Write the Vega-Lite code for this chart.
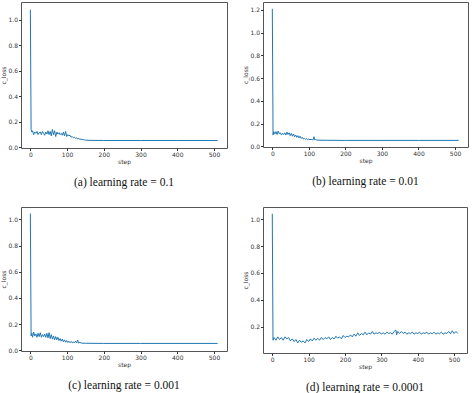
{
 "$schema": "https://vega.github.io/schema/vega-lite/v6.json",
 "padding": {"left": 0, "top": 1, "right": 3, "bottom": 0},
 "background": "white",
 "datasets": {
  "a": [
   {"s":0,"v":1.08},{"s":2,"v":0.14},{"s":4,"v":0.12},{"s":6,"v":0.13},{"s":9,"v":0.10},{"s":12,"v":0.12},{"s":15,"v":0.11},{"s":18,"v":0.125},{"s":21,"v":0.10},{"s":24,"v":0.115},{"s":27,"v":0.12},{"s":30,"v":0.10},{"s":33,"v":0.125},{"s":36,"v":0.11},{"s":39,"v":0.095},{"s":42,"v":0.12},{"s":45,"v":0.105},{"s":48,"v":0.13},{"s":51,"v":0.10},{"s":54,"v":0.125},{"s":57,"v":0.09},{"s":60,"v":0.14},{"s":63,"v":0.10},{"s":66,"v":0.13},{"s":69,"v":0.085},{"s":72,"v":0.12},{"s":75,"v":0.105},{"s":78,"v":0.115},{"s":81,"v":0.10},{"s":84,"v":0.11},{"s":87,"v":0.095},{"s":90,"v":0.12},{"s":93,"v":0.09},{"s":96,"v":0.125},{"s":99,"v":0.085},{"s":102,"v":0.10},{"s":105,"v":0.09},{"s":108,"v":0.095},{"s":111,"v":0.08},{"s":114,"v":0.085},{"s":117,"v":0.075},{"s":120,"v":0.08},{"s":123,"v":0.07},{"s":126,"v":0.075},{"s":129,"v":0.065},{"s":132,"v":0.07},{"s":135,"v":0.062},{"s":138,"v":0.066},{"s":141,"v":0.06},{"s":144,"v":0.062},{"s":147,"v":0.058},{"s":150,"v":0.057},{"s":160,"v":0.055},{"s":200,"v":0.054},{"s":300,"v":0.054},{"s":400,"v":0.054},{"s":510,"v":0.054}
  ],
  "b": [
   {"s":0,"v":1.21},{"s":2,"v":0.10},{"s":4,"v":0.13},{"s":7,"v":0.11},{"s":10,"v":0.13},{"s":13,"v":0.105},{"s":16,"v":0.135},{"s":19,"v":0.11},{"s":22,"v":0.12},{"s":25,"v":0.10},{"s":28,"v":0.115},{"s":31,"v":0.105},{"s":34,"v":0.12},{"s":37,"v":0.10},{"s":40,"v":0.125},{"s":43,"v":0.105},{"s":46,"v":0.12},{"s":49,"v":0.095},{"s":52,"v":0.115},{"s":55,"v":0.09},{"s":58,"v":0.11},{"s":61,"v":0.085},{"s":64,"v":0.10},{"s":67,"v":0.08},{"s":70,"v":0.095},{"s":73,"v":0.075},{"s":76,"v":0.09},{"s":79,"v":0.07},{"s":82,"v":0.08},{"s":85,"v":0.065},{"s":88,"v":0.072},{"s":91,"v":0.062},{"s":94,"v":0.068},{"s":97,"v":0.06},{"s":100,"v":0.066},{"s":103,"v":0.058},{"s":106,"v":0.064},{"s":109,"v":0.058},{"s":112,"v":0.06},{"s":114,"v":0.085},{"s":116,"v":0.058},{"s":119,"v":0.06},{"s":122,"v":0.056},{"s":125,"v":0.055},{"s":150,"v":0.054},{"s":200,"v":0.053},{"s":300,"v":0.053},{"s":400,"v":0.053},{"s":510,"v":0.053}
  ],
  "c": [
   {"s":0,"v":1.045},{"s":2,"v":0.11},{"s":4,"v":0.13},{"s":6,"v":0.10},{"s":9,"v":0.14},{"s":12,"v":0.11},{"s":15,"v":0.125},{"s":18,"v":0.10},{"s":21,"v":0.13},{"s":24,"v":0.105},{"s":27,"v":0.135},{"s":30,"v":0.10},{"s":33,"v":0.12},{"s":36,"v":0.105},{"s":39,"v":0.125},{"s":42,"v":0.10},{"s":45,"v":0.13},{"s":48,"v":0.095},{"s":51,"v":0.135},{"s":54,"v":0.09},{"s":57,"v":0.12},{"s":60,"v":0.085},{"s":63,"v":0.11},{"s":66,"v":0.08},{"s":69,"v":0.105},{"s":72,"v":0.08},{"s":75,"v":0.10},{"s":78,"v":0.075},{"s":81,"v":0.09},{"s":84,"v":0.07},{"s":87,"v":0.085},{"s":90,"v":0.065},{"s":93,"v":0.08},{"s":96,"v":0.062},{"s":99,"v":0.075},{"s":102,"v":0.06},{"s":105,"v":0.07},{"s":108,"v":0.058},{"s":111,"v":0.068},{"s":114,"v":0.057},{"s":117,"v":0.065},{"s":120,"v":0.056},{"s":123,"v":0.07},{"s":126,"v":0.057},{"s":129,"v":0.078},{"s":131,"v":0.056},{"s":135,"v":0.06},{"s":140,"v":0.055},{"s":150,"v":0.054},{"s":200,"v":0.053},{"s":300,"v":0.053},{"s":510,"v":0.053}
  ],
  "d": [
   {"s":0,"v":1.04},{"s":2,"v":0.10},{"s":5,"v":0.12},{"s":10,"v":0.10},{"s":15,"v":0.125},{"s":20,"v":0.105},{"s":25,"v":0.12},{"s":30,"v":0.10},{"s":35,"v":0.125},{"s":40,"v":0.11},{"s":45,"v":0.12},{"s":50,"v":0.095},{"s":55,"v":0.11},{"s":60,"v":0.09},{"s":65,"v":0.105},{"s":70,"v":0.08},{"s":75,"v":0.10},{"s":80,"v":0.085},{"s":85,"v":0.095},{"s":90,"v":0.08},{"s":95,"v":0.105},{"s":100,"v":0.09},{"s":105,"v":0.11},{"s":110,"v":0.095},{"s":115,"v":0.115},{"s":120,"v":0.10},{"s":125,"v":0.115},{"s":130,"v":0.10},{"s":135,"v":0.12},{"s":140,"v":0.105},{"s":145,"v":0.12},{"s":150,"v":0.11},{"s":155,"v":0.125},{"s":160,"v":0.105},{"s":165,"v":0.12},{"s":170,"v":0.11},{"s":175,"v":0.13},{"s":180,"v":0.115},{"s":185,"v":0.125},{"s":190,"v":0.11},{"s":195,"v":0.135},{"s":200,"v":0.12},{"s":205,"v":0.13},{"s":210,"v":0.125},{"s":215,"v":0.14},{"s":220,"v":0.125},{"s":225,"v":0.145},{"s":230,"v":0.13},{"s":235,"v":0.155},{"s":240,"v":0.135},{"s":245,"v":0.15},{"s":250,"v":0.14},{"s":255,"v":0.16},{"s":260,"v":0.14},{"s":265,"v":0.155},{"s":270,"v":0.145},{"s":275,"v":0.165},{"s":280,"v":0.145},{"s":285,"v":0.155},{"s":290,"v":0.15},{"s":295,"v":0.16},{"s":300,"v":0.145},{"s":305,"v":0.155},{"s":310,"v":0.145},{"s":315,"v":0.16},{"s":320,"v":0.15},{"s":325,"v":0.155},{"s":330,"v":0.145},{"s":335,"v":0.165},{"s":340,"v":0.175},{"s":342,"v":0.14},{"s":345,"v":0.165},{"s":350,"v":0.15},{"s":355,"v":0.165},{"s":360,"v":0.15},{"s":365,"v":0.16},{"s":370,"v":0.145},{"s":375,"v":0.155},{"s":380,"v":0.15},{"s":385,"v":0.16},{"s":390,"v":0.145},{"s":395,"v":0.155},{"s":400,"v":0.15},{"s":405,"v":0.16},{"s":410,"v":0.145},{"s":415,"v":0.155},{"s":420,"v":0.15},{"s":425,"v":0.16},{"s":430,"v":0.145},{"s":435,"v":0.155},{"s":440,"v":0.148},{"s":445,"v":0.16},{"s":450,"v":0.145},{"s":455,"v":0.155},{"s":460,"v":0.148},{"s":465,"v":0.16},{"s":470,"v":0.145},{"s":475,"v":0.155},{"s":480,"v":0.15},{"s":485,"v":0.165},{"s":490,"v":0.148},{"s":495,"v":0.17},{"s":500,"v":0.15},{"s":505,"v":0.165},{"s":510,"v":0.15}
  ]
 },
 "columns": 2,
 "spacing": {"row": 17, "column": 14},
 "concat": [
  {
   "width": 206, "height": 146,
   "data": {"name": "a"},
   "title": {"text": "(a) learning rate = 0.1"},
   "mark": {"type": "line", "color": "#1f77b4", "strokeWidth": 1},
   "encoding": {
    "x": {"field": "s", "type": "quantitative", "title": "step", "scale": {"domain": [-25.5, 535.5], "nice": false}, "axis": {"values": [0, 100, 200, 300, 400, 500]}},
    "y": {"field": "v", "type": "quantitative", "title": "c_loss", "scale": {"domain": [-0.005, 1.14], "nice": false, "zero": false}, "axis": {"values": [0, 0.2, 0.4, 0.6, 0.8, 1.0], "format": ".1f"}}
   }
  },
  {
   "width": 205, "height": 145,
   "data": {"name": "b"},
   "title": {"text": "(b) learning rate = 0.01"},
   "mark": {"type": "line", "color": "#1f77b4", "strokeWidth": 1},
   "encoding": {
    "x": {"field": "s", "type": "quantitative", "title": "step", "scale": {"domain": [-25.5, 535.5], "nice": false}, "axis": {"values": [0, 100, 200, 300, 400, 500]}},
    "y": {"field": "v", "type": "quantitative", "title": "c_loss", "scale": {"domain": [-0.005, 1.27], "nice": false, "zero": false}, "axis": {"values": [0, 0.2, 0.4, 0.6, 0.8, 1.0, 1.2], "format": ".1f"}}
   }
  },
  {
   "width": 206, "height": 144,
   "data": {"name": "c"},
   "title": {"text": "(c) learning rate = 0.001"},
   "mark": {"type": "line", "color": "#1f77b4", "strokeWidth": 1},
   "encoding": {
    "x": {"field": "s", "type": "quantitative", "title": "step", "scale": {"domain": [-25.5, 535.5], "nice": false}, "axis": {"values": [0, 100, 200, 300, 400, 500]}},
    "y": {"field": "v", "type": "quantitative", "title": "c_loss", "scale": {"domain": [-0.005, 1.095], "nice": false, "zero": false}, "axis": {"values": [0, 0.2, 0.4, 0.6, 0.8, 1.0], "format": ".1f"}}
   }
  },
  {
   "width": 204, "height": 146,
   "data": {"name": "d"},
   "title": {"text": "(d) learning rate = 0.0001"},
   "mark": {"type": "line", "color": "#1f77b4", "strokeWidth": 1},
   "encoding": {
    "x": {"field": "s", "type": "quantitative", "title": "step", "scale": {"domain": [-25.5, 535.5], "nice": false}, "axis": {"values": [0, 100, 200, 300, 400, 500]}},
    "y": {"field": "v", "type": "quantitative", "title": "c_loss", "scale": {"domain": [0.005, 1.09], "nice": false, "zero": false}, "axis": {"values": [0.2, 0.4, 0.6, 0.8, 1.0], "format": ".1f"}}
   }
  }
 ],
 "config": {
  "view": {"stroke": "#555", "strokeWidth": 1},
  "axis": {"labelFont": "DejaVu Sans", "labelFontSize": 6, "titleFont": "DejaVu Sans", "titleFontSize": 6, "titleFontWeight": "normal", "labelColor": "#333", "titleColor": "#333", "tickColor": "#333", "tickSize": 2.5, "tickWidth": 1, "domain": false, "grid": false, "labelPadding": 1, "titlePadding": 1},
  "title": {"font": "Liberation Serif", "fontSize": 11.5, "fontWeight": "normal", "color": "#111", "orient": "bottom", "offset": 12, "anchor": "middle"}
 }
}
